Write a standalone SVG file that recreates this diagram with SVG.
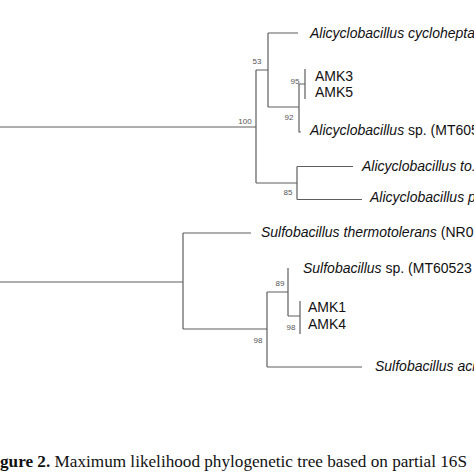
<svg xmlns="http://www.w3.org/2000/svg" width="474" height="474" viewBox="0 0 474 474">
<style>
.br{fill:none;stroke:#5e5e5e;stroke-width:1.2}
.lb{font-family:"Liberation Sans",Arial,sans-serif;font-size:14px;fill:#111}
.it{font-style:italic}
.bs{font-family:"Liberation Sans",Arial,sans-serif;font-size:8px;fill:#555;text-anchor:middle}
.cap{font-family:"Liberation Serif","Times New Roman",serif;font-size:16px;fill:#111}
</style>
<rect width="474" height="474" fill="#fff"/>
<g id="connectors">
<path class="br" d="M0,127 H256 M256,70 V183 M256,70 H268 M268,33 V107 M268,33 H298 M268,107 H299 M299,84 V132 H301 M299,84 H305 M305,69 V99 M256,183 H297 M297,166.5 V199.5 M297,166.5 H353 M297,199.5 H362"/>
<path class="br" d="M0,282 H183 M183,233 V329 M183,233 H251 M183,329 H267 M267,292 V367 M267,292 H288 M288,268 V316 M288,316 H300 M300,301 V334 M267,367 H362"/>
</g>
<g id="bootstrap">
<text class="bs" x="257" y="64">53</text>
<text class="bs" x="295" y="84">95</text>
<text class="bs" x="245" y="124">100</text>
<text class="bs" x="289" y="120">92</text>
<text class="bs" x="288" y="195">85</text>
<text class="bs" x="280" y="286">89</text>
<text class="bs" x="291" y="330">98</text>
<text class="bs" x="258" y="343">98</text>
</g>
<g id="n-cyclohepta"><text class="lb it" x="310" y="38">Alicyclobacillus cyclohepta</text></g>
<g id="n-amk3"><text class="lb" x="315" y="81">AMK3</text></g>
<g id="n-amk5"><text class="lb" x="315" y="97">AMK5</text></g>
<g id="n-alisp"><text class="lb" x="310" y="135"><tspan class="it">Alicyclobacillus</tspan> sp. (MT605</text></g>
<g id="n-alito"><text class="lb it" x="362" y="171">Alicyclobacillus to.</text></g>
<g id="n-alip"><text class="lb it" x="370" y="202">Alicyclobacillus p</text></g>
<g id="n-sulther"><text class="lb" x="261" y="237"><tspan class="it">Sulfobacillus thermotolerans</tspan> (NR0</text></g>
<g id="n-sulsp"><text class="lb" x="303" y="273"><tspan class="it">Sulfobacillus</tspan> sp.  (MT60523</text></g>
<g id="n-amk1"><text class="lb" x="308" y="312">AMK1</text></g>
<g id="n-amk4"><text class="lb" x="308" y="329">AMK4</text></g>
<g id="n-sulaci"><text class="lb it" x="375" y="371">Sulfobacillus aci</text></g>
<text class="cap" x="0" y="467" textLength="467" lengthAdjust="spacingAndGlyphs"><tspan font-weight="bold">gure 2.</tspan> Maximum likelihood phylogenetic tree based on partial 16S</text>
</svg>
